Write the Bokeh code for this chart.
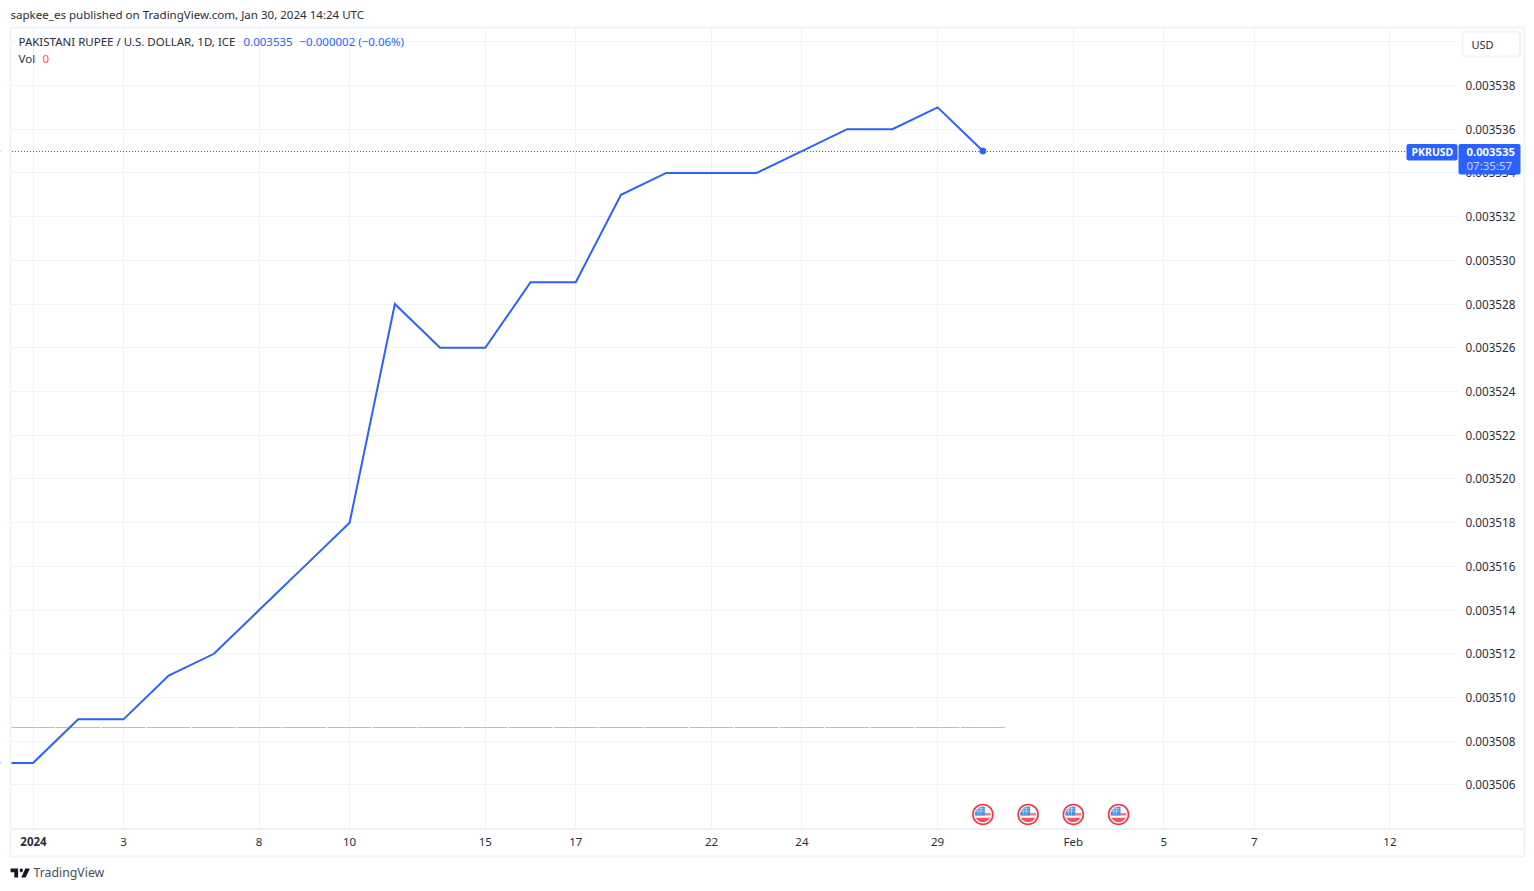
from urllib.parse import quote
from bokeh.plotting import figure
from bokeh.models import (BoxAnnotation, ColumnDataSource, FixedTicker, Label,
                          NumeralTickFormatter, PolyAnnotation, Range1d)
from bokeh.embed import file_html
from bokeh.resources import INLINE

# ---- data ----
bar_index = [-1, 0, 1, 2, 3, 4, 5, 6, 7, 8, 9, 10, 11, 12, 13, 14, 15, 16, 17, 18, 19, 20, 21]
close_price = [0.003507, 0.003507, 0.003509, 0.003509, 0.003511, 0.003512, 0.003514, 0.003516,
               0.003518, 0.003528, 0.003526, 0.003526, 0.003529, 0.003529, 0.003533, 0.003534,
               0.003534, 0.003534, 0.003535, 0.003536, 0.003536, 0.003537, 0.003535]
volume = [0] * 23
volume_up = [True] * 22 + [False]
x_ticks = [0, 2, 5, 7, 10, 12, 15, 17, 20, 23, 25, 27, 30]
x_tick_labels = ["", "3", "8", "10", "15", "17", "22", "24", "29", "Feb", "5", "7", "12"]
y_ticks = [0.003506, 0.003508, 0.003510, 0.003512, 0.003514, 0.003516, 0.003518, 0.003520,
           0.003522, 0.003524, 0.003526, 0.003528, 0.003530, 0.003532, 0.003534, 0.003536,
           0.003538, 0.003540]
event_index = [21, 22, 23, 24]
event_level = [0.00350465, 0.00350465, 0.00350465, 0.00350465]
last_price = 0.003535
price_line_index = [-0.7296, 30.36]

FONT = "Noto Sans"
BLUE = "#2962ff"
TEXT = "#2a2e39"
GRID = "#f0f3fa"
FRAME = "#f0f3fa"
AXIS = "#e0e3eb"
W, H = 1526, 883

p = figure(width=W, height=H, output_backend="svg", toolbar_location=None,
           x_range=Range1d(-0.7186, 33.019), y_range=Range1d(0.003501491, 0.003541888),
           x_axis_location="below", y_axis_location="right",
           min_border_left=0, min_border_top=0, min_border_bottom=0, min_border_right=0,
           background_fill_color="white", border_fill_color="white")
p.outline_line_color = None

# axes and grid
ax = p.xaxis[0]
ax.ticker = FixedTicker(ticks=x_ticks)
ax.major_label_overrides = dict(zip(x_ticks, x_tick_labels))
ax.major_tick_line_color = None
ax.minor_tick_line_color = None
ax.major_tick_out = 0
ax.minor_tick_out = 0
ax.axis_line_color = None
ax.major_label_text_font = FONT
ax.major_label_text_font_size = "11.5px"
ax.major_label_text_color = TEXT
ax.major_label_standoff = -50

ay = p.yaxis[0]
ay.ticker = FixedTicker(ticks=y_ticks)
ay.formatter = NumeralTickFormatter(format="0.000000")
ay.major_tick_line_color = None
ay.minor_tick_line_color = None
ay.major_tick_out = 0
ay.minor_tick_out = 0
ay.axis_line_color = None
ay.major_label_text_font = FONT
ay.major_label_text_font_size = "11.7px"
ay.major_label_text_color = TEXT
ay.major_label_standoff = -61

p.xgrid.grid_line_color = GRID
p.ygrid.grid_line_color = GRID


def box(l, t, r, b, fill=None, line=None, width=1, radius=0, level="annotation"):
    p.add_layout(BoxAnnotation(left=l, right=r, top=t, bottom=b,
                               left_units="canvas", right_units="canvas",
                               top_units="canvas", bottom_units="canvas",
                               fill_color=fill or "white", fill_alpha=1 if fill else 0,
                               line_color=line or "white", line_alpha=1 if line else 0,
                               line_width=width, border_radius=radius, editable=False,
                               level=level))


# white margins round the price pane, over the grid but under the axis texts
box(0, 0, W, 28, fill="white", level="underlay")
box(0, 828, W, H, fill="white", level="underlay")
box(1458, 0, W, H, fill="white", level="underlay")

# volume (own scale, zero sits low in the pane)
p.extra_y_ranges["vol"] = Range1d(-0.195, 0.90875)
half = 0.485
vol_src = ColumnDataSource(dict(
    x0=[i - half for i in bar_index], x1=[i + half for i in bar_index],
    y=volume, c=["#89d4cc" if u else "#f9a6a6" for u in volume_up]))
p.segment("x0", "y", "x1", "y", source=vol_src, line_color="c", line_width=1, y_range_name="vol")

# price line, on a scale nudged so the dots sit on a pixel row
p.extra_y_ranges["tag"] = Range1d(0.003501511, 0.003541908)
p.line(price_line_index, [last_price, last_price], line_color=BLUE, line_width=1, line_dash="1 2",
       y_range_name="tag")
p.line(bar_index, close_price, line_color=BLUE, line_width=2, line_join="miter")
p.scatter(bar_index[-1:], close_price[-1:], size=6, color=BLUE)

# event flags
flag = ('<svg xmlns="http://www.w3.org/2000/svg" width="48" height="48" viewBox="0 0 24 24">'
        '<defs><clipPath id="c"><circle cx="12" cy="12" r="8.2"/></clipPath></defs>'
        '<circle cx="12" cy="12" r="10.4" fill="white" stroke="#f23645" stroke-width="1.7"/>'
        '<g clip-path="url(#c)"><rect x="3" y="3" width="18" height="18" fill="#f6f6f6"/>'
        '<rect x="3" y="10.5" width="18" height="2.6" fill="#f77c80"/>'
        '<rect x="3" y="15.5" width="18" height="6" fill="#f7525f"/>'
        '<rect x="3" y="3" width="11" height="10" fill="#4a90e2"/>'
        '<path d="M5 6h8M5 8.5h8M7 4v8M10 4v8" stroke="#cfe3fb" stroke-width=".7"/></g></svg>')
url = "data:image/svg+xml;utf8," + quote(flag)
p.image_url(url=[url] * len(event_index), x=event_index, y=event_level, w=23, h=23,
            w_units="screen", h_units="screen", anchor="center")

# mask left of the pane, above the line marks
box(-3, -3, 10, H + 3, fill="white", level="guide")


def lab(text, x, y, color=TEXT, size=11.5, style="normal", align="left"):
    p.add_layout(Label(text=text, x=x, y=y - 1, x_units="canvas", y_units="canvas",
                       text_color=color, text_font=FONT, text_font_size=f"{size}px",
                       text_font_style=style, text_align=align, text_baseline="middle"))


def poly(xs, ys, color="#131722"):
    p.add_layout(PolyAnnotation(xs=xs, ys=ys, xs_units="canvas", ys_units="canvas",
                                fill_color=color, fill_alpha=1, line_alpha=0, editable=False))


# frame of the widget and time axis rule
box(10, 27, 1524, 856, line=FRAME, width=2)
box(11, 828, 1458.5, 829, fill=AXIS)
box(1459.5, 828, 1523, 829, fill=AXIS)

# currency button
box(1462, 31, 1519.5, 56, fill="white", line=FRAME, width=2, radius=4)
lab("USD", 1471, 44.5, size=11)

# last price tags
box(1406, 143.5, 1457, 160, fill=BLUE, radius=2)
box(1458, 143.5, 1520, 174, fill=BLUE, radius=2)
lab("PKRUSD", 1411, 152, color="white", size=10.5, style="bold")
lab("0.003535", 1466, 152, color="white", size=11.3, style="bold")
lab("07:35:57", 1466, 166, color="#c6d4ff")

# header texts
lab("sapkee_es published on TradingView.com, Jan 30, 2024 14:24 UTC", 10, 15, size=11.55)
lab("PAKISTANI RUPEE / U.S. DOLLAR, 1D, ICE", 18, 42)
lab("0.003535", 243, 42, color=BLUE)
lab("\u22120.000002 (\u22120.06%)", 299, 42, color=BLUE)
lab("Vol", 18, 59)
lab("0", 42, 59, color="#f7525f")

# bold year label on the time axis
lab("2024", 33, 842, style="bold", align="center")

# TradingView mark
sx, sy = 0.54, 0.64
def mx(vals):
    return [10 + v * sx for v in vals]
def my(vals):
    return [868 + (v - 6) * sy for v in vals]
poly(mx([0, 14, 14, 7, 7, 0]), my([6, 6, 20, 20, 12, 12]))
poly(mx([27.5, 36, 28, 20]), my([6, 6, 20, 20]))
poly(mx([17, 19, 21, 23, 23, 21, 19, 17]), my([8, 6, 6, 8, 10, 12, 12, 10]))
lab("TradingView", 33, 873, color="#4a4e58", size=12.3)

open("out.html", "w").write(file_html(p, INLINE))
